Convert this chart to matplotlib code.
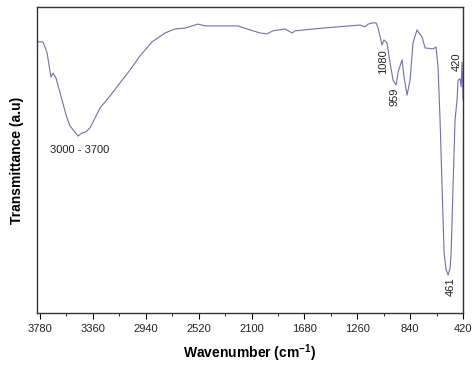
import numpy as np
import matplotlib.pyplot as plt
from matplotlib.ticker import MultipleLocator

plt.rcParams['font.family'] = ['Liberation Sans', 'DejaVu Sans']

# FTIR spectrum (wavenumber in cm-1, transmittance in a.u.)
wavenumber = [3804, 3756, 3724, 3693, 3677, 3653, 3605, 3573, 3542, 3510, 3478,
              3446, 3415, 3383, 3343, 3303, 3224, 3144, 3065, 3025, 2986, 2946,
              2890, 2843, 2787, 2708, 2628, 2525, 2469, 2350, 2207, 2112, 2033,
              1977, 1929, 1834, 1778, 1755, 1532, 1238, 1198, 1175, 1135, 1111,
              1095, 1064, 1048, 1024, 1000, 976, 952, 936, 905, 889, 865, 841,
              818, 786, 746, 722, 658, 635, 619, 603, 587, 571, 555, 539, 523,
              515, 500, 484, 468, 460, 444, 436, 428, 420]
transmittance = [88.6, 88.6, 85.0, 77.1, 78.4, 76.8, 69.6, 64.7, 61.1, 59.5, 57.8,
                 58.8, 59.2, 60.5, 63.7, 67.0, 70.9, 75.2, 79.4, 81.7, 84.0, 85.9,
                 88.6, 89.9, 91.5, 92.8, 93.1, 94.4, 93.8, 93.8, 93.8, 92.5, 91.5,
                 91.2, 92.2, 92.8, 91.5, 92.2, 93.1, 94.1, 93.5, 94.4, 94.8, 94.8,
                 93.1, 87.6, 89.2, 88.2, 81.7, 76.1, 74.5, 78.8, 82.7, 77.1, 71.2, 76.1,
                 88.2, 92.5, 90.2, 86.6, 86.3, 86.9, 80.4, 63.1, 41.2, 19.6, 14.1, 12.4, 14.7,
                 19.6, 41.2, 63.1, 69.6, 76.1, 76.5, 73.9, 82.0, 69.6]

# band labels: text, x, y, rotation
bands = [('3000 - 3700', 3462, 53.3, 0),
         ('1080', 1056, 82.0, 90),
         ('959', 968, 70.6, 90),
         ('461', 515, 8.5, 90),
         ('420', 468, 82.0, 90)]

fig = plt.figure(figsize=(4.74, 3.66), dpi=100)
ax = fig.add_axes([0.078, 0.145, 0.899, 0.836])
ax.plot(wavenumber, transmittance, color='#7070b0', lw=0.8)

for txt, x, y, rot in bands:
    ax.text(x, y, txt, rotation=rot, ha='center', va='center', fontsize=8, color='#222222')

ax.set_xlim(3804, 420)
ax.set_ylim(0, 100)
ax.xaxis.set_minor_locator(MultipleLocator(210))
ax.set_xticks(np.arange(3780, 419, -420))
ax.set_yticks([])
ax.tick_params(axis='x', which='major', direction='out', length=4, labelsize=8, pad=4,
               labelcolor='#222222')
ax.tick_params(axis='x', which='minor', direction='out', length=2.5)
for s in ax.spines.values():
    s.set_color('#333333')
    s.set_linewidth(1.0)

ax.set_xlabel('Wavenumber (cm$^{\\mathregular{-1}}$)', fontsize=10, fontweight='bold', labelpad=6)
ax.set_ylabel('Transmittance (a.u)', fontsize=10, fontweight='bold', labelpad=9)

plt.savefig('out.png', dpi=100)
